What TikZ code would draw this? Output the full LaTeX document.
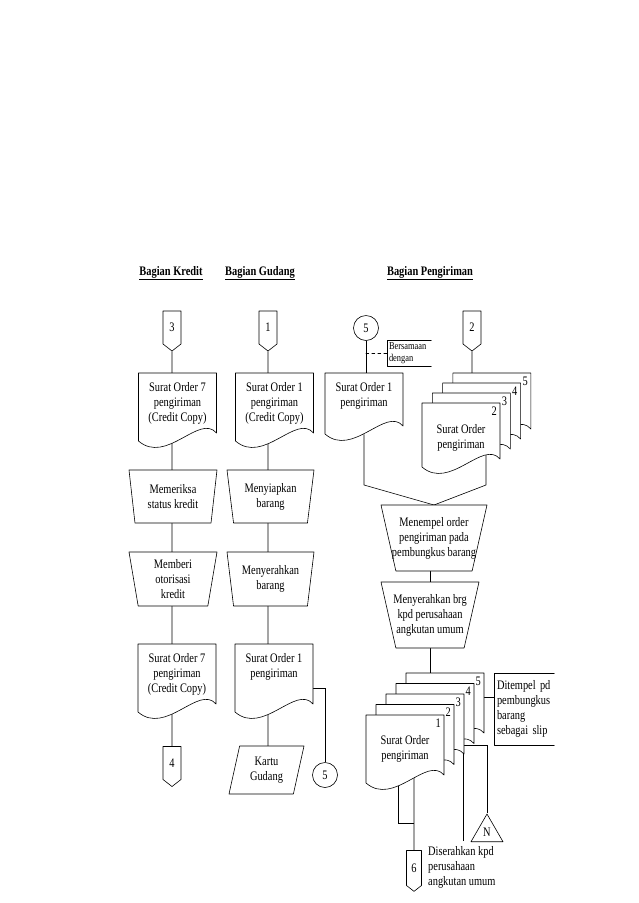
\documentclass[tikz,border=0pt]{standalone}
\usepackage{fontspec}
\setmainfont{Liberation Serif}[FakeStretch=0.8]
\usetikzlibrary{shapes.geometric,shapes.symbols,backgrounds}

\newcommand\doctxt{\fontsize{13}{15}\selectfont}
\newcommand\notetxt{\fontsize{10.5}{12}\selectfont}

\tikzset{
    every picture/.style={line cap=round,line join=round},
    flowline/.style={draw=black,line width=0.6pt},
    docline/.style={flowline,fill=white},
    docnode/.style={anchor=north,inner xsep=1pt,inner ysep=9pt,font=\doctxt},
    copyno/.style={inner sep=0pt,font=\doctxt},
    offpage/.style={signal,signal to=south,signal pointer angle=104,draw,fill=white,
      line width=0.6pt,minimum width=18pt,minimum height=35pt,inner sep=0pt,font=\doctxt},
    procbox/.style={trapezium,shape border rotate=180,trapezium angle=78,
      trapezium stretches body=true,draw,fill=white,line width=0.6pt,
      minimum width=88pt,minimum height=53pt,inner xsep=0pt,inner ysep=2pt,
      align=center,font=\doctxt},
    recordbox/.style={trapezium,trapezium left angle=68,trapezium right angle=112,
      trapezium stretches body=true,draw,fill=white,line width=0.6pt,
      minimum width=75pt,minimum height=48pt,inner sep=0pt,align=center,font=\doctxt},
    linkcircle/.style={circle,draw,fill=white,line width=0.6pt,minimum size=25pt,
      inner sep=0pt,font=\doctxt},
    archive/.style={regular polygon,regular polygon sides=3,draw,fill=white,
      line width=0.6pt,minimum size=37pt,inner sep=0pt,font=\doctxt},
    heading/.style={font=\bfseries\fontsize{13}{14}\selectfont},
    notebox/.style={align=left,inner ysep=0pt}
}

% document sheet: [text drop], name, top centre, height, text
\newcommand\docsheet[5][0pt]{%
  \draw[docline] (#3) ++(-39,0) -- ++(0,#4)
    .. controls +(28,24) and +(-17,-20) .. ++(78,-8) -- ++(0,8-#4) -- cycle;
  \node[docnode] (#2) at (#3)
    {\parbox[t][\dimexpr#4pt-18pt\relax][t]{76pt}{\vspace*{#1}\centering\leavevmode#5}};
}

\begin{document}
\begin{tikzpicture}[x=1pt,y=-1pt]
  \useasboundingbox (0,0) rectangle (638,903);

  \node[heading] (hkredit) at (171,273) {\underline{Bagian Kredit}};
  \node[heading] (hgudang) at (260,273) {\underline{Bagian Gudang}};
  \node[heading] (hkirim) at (430,273) {\underline{Bagian Pengiriman}};

  % Bagian Kredit
  \node[offpage] (k3) at (172,327.5) {3};
  \docsheet{kdoc1}{177.5,373}{68}{Surat Order 7\\pengiriman\\(Credit Copy)}
  \node[procbox] (periksa) at (173,496.5) {Memeriksa\\status kredit};
  \node[procbox,minimum height=54pt] (otorisasi) at (173,579) {Memberi\\otorisasi\\kredit};
  \docsheet{kdoc2}{177,644}{68}{Surat Order 7\\pengiriman\\(Credit Copy)}
  \node[offpage] (k4) at (172,763) {4};

  % Bagian Gudang
  \node[offpage] (g1) at (268,327.5) {1};
  \docsheet{gdoc1}{274.5,373}{68}{Surat Order 1\\pengiriman\\(Credit Copy)}
  \node[procbox,minimum width=87pt] (siapkan) at (270.5,496.5) {Menyiapkan\\barang};
  \node[procbox,minimum width=87pt,minimum height=54pt] (serahkan) at (270.5,579) {Menyerahkan\\barang};
  \docsheet{gdoc2}{274,644}{68}{Surat Order 1\\pengiriman}
  \node[recordbox] (kartu) at (266.5,770) {Kartu\\Gudang};
  \node[linkcircle] (g5) at (325,775) {5};

  % Bagian Pengiriman
  \node[linkcircle] (p5) at (366,328) {5};
  \node[notebox,text width=40pt,inner xsep=2pt,minimum height=26pt,font=\notetxt]
    (withnote) at (409,353) {Bersamaan\\dengan};
  \draw[flowline] (withnote.north east) -- (withnote.north west)
    -- (withnote.south west) -- (withnote.south east);
  \draw[flowline,dashed] (withnote.west) -- (p5 |- withnote.west);
  \docsheet{pdoc}{364,373}{61}{Surat Order 1\\pengiriman}

  \node[offpage] (p2) at (472,327.5) {2};
  \foreach \i [evaluate=\i as \cx using 461+(\i-2)*10.3,
               evaluate=\i as \cy using 403-(\i-2)*10] in {5,4,3} {
    \docsheet{ship\i}{\cx,\cy}{64}{}
    \node[copyno] at ([xshift=-6pt,yshift=-8pt]ship\i.north east) {\i};
  }
  \docsheet[12pt]{ship2}{461,403}{64}{Surat Order\\pengiriman}
  \node[copyno] at ([xshift=-6pt,yshift=-8pt]ship2.north east) {2};

  \node[procbox,trapezium angle=72,minimum width=106pt,minimum height=66pt,
    inner xsep=-10pt] (menempel) at (434,538) {Menempel order\\pengiriman pada\\pembungkus barang};
  \coordinate (funnel) at ([yshift=33pt]menempel.center);
  \node[procbox,trapezium angle=72,minimum width=98pt,minimum height=66pt,
    inner xsep=-8pt] (handover) at (430,615) {Menyerahkan brg\\kpd perusahaan\\angkutan umum};

  \foreach \i [evaluate=\i as \cx using 405+(\i-1)*10,
               evaluate=\i as \cy using 715-(\i-1)*10.5] in {5,4,3,2} {
    \docsheet{pack\i}{\cx,\cy}{68}{}
    \node[copyno] at ([xshift=-6pt,yshift=-8pt]pack\i.north east) {\i};
  }
  \docsheet[11pt]{pack1}{405,715}{68}{Surat Order\\pengiriman}
  \node[copyno] at ([xshift=-6pt,yshift=-8pt]pack1.north east) {1};

  \node[notebox,text width=54pt,inner xsep=3pt,minimum height=72pt,font=\doctxt]
    (slipnote) at (524,709) {Ditempel pd\\pembungkus\\barang\\sebagai slip};
  \draw[flowline] (slipnote.north east) -- (slipnote.north west)
    -- (slipnote.south west) -- (slipnote.south east);

  \node[archive] (ntri) at (487,832.5) {N};
  \node[offpage,minimum width=15pt,minimum height=37pt] (six) at (414,868) {6};
  \node[notebox,anchor=north west,inner sep=0pt,font=\doctxt]
    (handtext) at (428,846) {Diserahkan kpd\\perusahaan\\angkutan umum};

  \begin{scope}[on background layer]
    \draw[flowline] (k3) -- (k4);
    \draw[flowline] (g1) -- (g1 |- kartu);
    \draw[flowline] ([yshift=-10pt]gdoc2.east) -| (g5);
    \draw[flowline] (p5) -- (p5 |- pdoc);
    \draw[flowline] (p2) -- (p2 |- ship5);
    \draw[flowline] (pdoc) -- ([yshift=20pt]pdoc |- funnel) -- (funnel);
    \draw[flowline] ([xshift=25pt]ship2.center)
      -- ([xshift=25pt,yshift=20pt]ship2.center |- funnel) -- (funnel);
    \draw[flowline] (handover |- menempel) -- (handover |- pack5);
    \draw[flowline] ([yshift=12pt]slipnote.west) -- ++(-14,0);
    \draw[flowline] ([xshift=-7pt]pack1.center) |- ([yshift=27pt]six.north);
    \draw[flowline] (six) -- (six |- pack1);
    \draw[flowline] ([xshift=38pt]pack3.center)
      -- ([xshift=38pt,yshift=5pt]pack3.center |- handtext.north);
    \draw[flowline] ([yshift=-28pt]pack4.center) -| (ntri);
  \end{scope}
\end{tikzpicture}
\end{document}
